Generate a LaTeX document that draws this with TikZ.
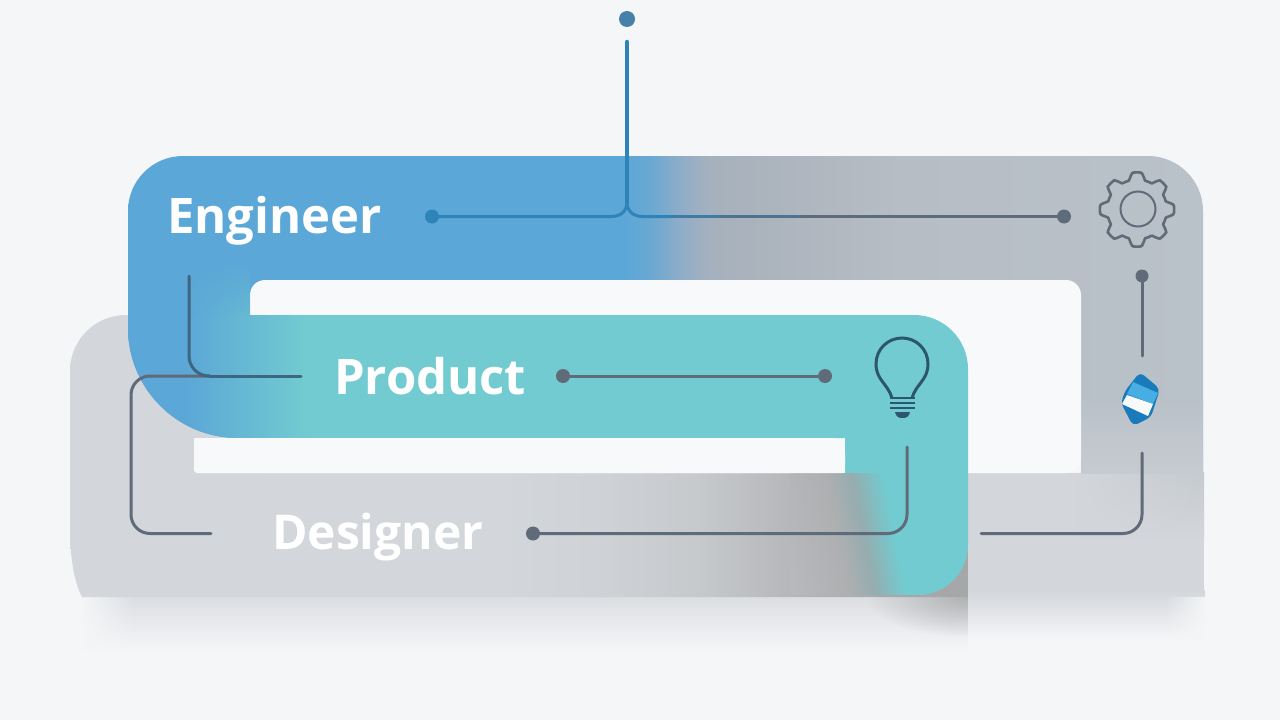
\documentclass[tikz,border=0pt]{standalone}
\usepackage{fontspec}
\setmainfont{Open Sans}
\usetikzlibrary{fadings}
\definecolor{pagebg}{HTML}{F5F6F8}
\definecolor{holewhite}{HTML}{F8F9FA}
\definecolor{bandblue}{HTML}{5BA7D7}
\definecolor{bandteal}{HTML}{72CBD0}
\definecolor{bandgrey}{HTML}{B9C1C9}
\definecolor{lowgrey}{HTML}{D3D6DA}
\definecolor{wiregrey}{HTML}{5F6B78}
\definecolor{wireblue}{HTML}{2E83B8}
\definecolor{wiredeep}{HTML}{3F6680}
\definecolor{bulbnavy}{HTML}{2C5570}
\definecolor{iconblue}{HTML}{1A7BBC}
\definecolor{iconsky}{HTML}{47AEE4}
\definecolor{fadea}{HTML}{6AA8D2}
\definecolor{fadeb}{HTML}{8FADC8}
\definecolor{fadec}{HTML}{A6B1BE}
\definecolor{faded}{HTML}{ABB3BC}
\definecolor{fadee}{HTML}{B6BDC5}
\definecolor{lowjoin}{HTML}{C6CBD0}
\tikzfading[name=wedgeglow,inner color=transparent!0,outer color=transparent!100]
\pgfdeclarehorizontalshading{bandtop}{100bp}{color(0bp)=(bandblue); color(48.1bp)=(bandblue); color(49.3bp)=(fadea); color(50.7bp)=(fadeb); color(52.1bp)=(fadec); color(54.4bp)=(faded); color(60.9bp)=(fadee); color(75bp)=(bandgrey); color(100bp)=(bandgrey)}
\pgfdeclarehorizontalshading{tealmain}{100bp}{color(0bp)=(bandblue); color(28.4bp)=(bandblue); color(35.6bp)=(bandteal); color(100bp)=(bandteal)}
\pgfdeclarehorizontalshading{tealpatch}{100bp}{color(0bp)=(bandblue); color(48bp)=(bandblue); color(75bp)=(bandteal!52!bandblue); color(100bp)=(bandteal!52!bandblue)}
\pgfdeclarehorizontalshading{lowband}{100bp}{color(0bp)=(lowgrey); color(49bp)=(lowgrey); color(54.5bp)=(lowgrey!95!gray); color(60bp)=(lowgrey!85!gray); color(65.6bp)=(lowgrey!62!gray); color(71.2bp)=(lowgrey!46!gray); color(100bp)=(lowgrey!46!gray)}
\pgfdeclarehorizontalshading{tealcorner}{100bp}{color(0bp)=(lowgrey!66!gray); color(22bp)=(lowgrey!66!gray); color(38bp)=(lowgrey!55!gray); color(45.3bp)=(bandteal!45!lowgrey!55!gray); color(54.4bp)=(bandteal); color(100bp)=(bandteal)}
\begin{document}
\begin{tikzpicture}[x=1pt,y=-1pt]
    \tikzset{wire/.style = {draw=wiregrey,line width=3pt,line cap=round}}
    \tikzset{bluewire/.style = {wire,draw=wireblue}}
    \tikzset{deepwire/.style = {wire,draw=wiredeep}}
    \tikzset{dot/.style = {shape=circle,fill=wiregrey,inner sep=0pt,minimum size=14pt}}
    \tikzset{rowlabel/.style = {anchor=base west,text=white,inner sep=0pt,font=\fontsize{49}{54}\selectfont\bfseries}}
    \useasboundingbox (0,0) rectangle (1280,720);
    \fill[pagebg] (0,0) rectangle (1280,720);
    \shade[top color=lowgrey!75!pagebg,bottom color=pagebg] (82,597) rectangle (968,652);
    \fill[pagebg,path fading=east] (80,597) rectangle (135,653);
    \begin{scope}
        \clip (860,597) rectangle (968,650);
        \fill[lowgrey!58!gray,path fading=wedgeglow] (868,557) rectangle (1068,637);
    \end{scope}
    \shade[top color=lowgrey,bottom color=pagebg] (968,590) rectangle (1205,640);
    \fill[pagebg,path fading=west] (1165,597) rectangle (1206,641);
    \fill[lowgrey] (968,473) rectangle (1204,592);
    \shade[shading=lowband] (82,597) .. controls (76,585) and (72,570) .. (70,540) [rounded corners=56pt] -- (70,315) [sharp corners] -- (260,315) -- (260,473) -- (968,473) -- (968,597) -- cycle;
    \shade[shading=bandtop] (128,328) [sharp corners] -- (128,211) [rounded corners=55pt] -- (128,156) -- (1203,156) [sharp corners] -- (1203,473) -- (1081,473) -- (1081,438) [rounded corners=110pt] -- (128,438) [sharp corners] -- cycle;
    \shade[top color=bandgrey,bottom color=lowjoin] (1081,400) rectangle (1203,473.5);
    \shade[top color=lowjoin,bottom color=lowgrey,path fading=west] (1075,473) rectangle (1204,540);
    \fill[holewhite,rounded corners=15pt] (250,280) rectangle (1081,473);
    \shade[shading=tealpatch,path fading=north] (128,262) rectangle (250,316);
    \shade[shading=tealmain] (128,328) -- (128,315) [rounded corners=54pt] -- (968,315) [sharp corners] -- (968,473) -- (845,473) -- (845,438) [rounded corners=110pt] -- (128,438) [sharp corners] -- cycle;
    \shade[shading=tealcorner,shading angle=11] (790,473) -- (968,473) [rounded corners=50pt] -- (968,595) [sharp corners] -- (790,595) -- cycle;
    \fill[holewhite] (194,438) [rounded corners=3pt] -- (194,473) -- (845,473) [rounded corners=13pt] -- (845,438) [sharp corners] -- cycle;

    \node[rowlabel] (engineer) at (167,233) {Engineer};
    \node[rowlabel] (product) at (334,394) {Product};
    \node[rowlabel,font=\fontsize{48}{54}\selectfont\bfseries] (designer) at (272,549) {Designer};

    \node[dot,fill=wireblue!70!gray,minimum size=16pt] (topdot) at (627,19) {};
    \coordinate (topwire) at (627,42);
    \coordinate (fork) at (627,202);
    \coordinate (forkl) at (611,216.5);
    \coordinate (forkr) at (643,216.5);
    \coordinate (wirefadea) at (670,216.5);
    \coordinate (wirefadeb) at (720,216.5);
    \coordinate (wirefadec) at (800,216.5);
    \node[dot,fill=wireblue] (engleft) at (432,216.5) {};
    \node[dot] (engright) at (1064,216.5) {};
    \draw[bluewire,line width=4.5pt] (topwire) -- (fork);
    \draw[bluewire] (engleft) -- (forkl) .. controls (620,216.5) and (627,212) .. (fork);
    \draw[wire] (wirefadec) -- (engright);
    \draw[wire,draw=wireblue!35!wiregrey] (wirefadeb) -- (wirefadec);
    \draw[wire,draw=wireblue!70!wiregrey] (wirefadea) -- (wirefadeb);
    \draw[bluewire] (fork) .. controls (627,212) and (634,216.5) .. (forkr) -- (wirefadea);

    \node[dot] (prodleft) at (563,376) {};
    \node[dot] (prodright) at (825,376) {};
    \draw[wire] (prodleft) -- (prodright);

    \coordinate (prodwire) at (301,376);
    \coordinate (desleft) at (211,533.5);
    \coordinate (engdrop) at (189,276);
    \coordinate (dropjoin) at (210,376);
    \coordinate (leftjoin) at (131,376);
    \coordinate (leftlow) at (131,533.5);
    \draw[wire,rounded corners=19pt] (dropjoin) -- (leftjoin) -- (leftlow) -- (desleft);
    \draw[deepwire] (prodwire) -- (dropjoin);
    \draw[deepwire,rounded corners=20pt] (engdrop) |- (dropjoin);

    \node[dot] (desdot) at (533,533.5) {};
    \coordinate (bulbwire) at (907,447);
    \coordinate (bulbturn) at (907,533.5);
    \draw[wire,rounded corners=19pt] (bulbwire) -- (bulbturn) -- (desdot);

    \node[dot,minimum size=13pt] (geardot) at (1142,276) {};
    \coordinate (gearwire) at (1142,356);
    \draw[wire] (geardot) -- (gearwire);
    \coordinate (clipwire) at (1142,453);
    \coordinate (clipturn) at (1142,533.5);
    \coordinate (rightend) at (981,533.5);
    \draw[wire,rounded corners=19pt] (clipwire) -- (clipturn) -- (rightend);

    \draw[wiregrey,line width=2.6pt] plot[smooth cycle,samples=180,domain=0:358] ({1137+(33.5+3.6*min(1,max(-1,1.8*cos(8*\x))))*cos(\x)},{209.5+(33.5+3.6*min(1,max(-1,1.8*cos(8*\x))))*sin(\x)});
    \draw[wiregrey,line width=2pt] (1138,209) circle[radius=17.5];

    \draw[bulbnavy,line width=3pt] (892,398) .. controls (888,384) and (876,380) .. (876,364) .. controls (876,349) and (888,338) .. (902,338) .. controls (916,338) and (928,349) .. (928,364) .. controls (928,380) and (916,384) .. (912,398);
    \foreach \y in {398,403,408}
        \draw[bulbnavy,line width=2.8pt] (890,\y) -- (915,\y);
    \fill[bulbnavy] (895,412) -- (910,412) .. controls (909,417) and (906,418) .. (902.5,418) .. controls (899,418) and (896,417) .. (895,412) -- cycle;

    \begin{scope}
        \clip[rounded corners=5pt] (1140,372) -- (1160,389) -- (1151,417) -- (1133,426) -- (1121,403) -- (1125,391) -- cycle;
        \fill[iconblue] (1115,365) rectangle (1165,430);
        \fill[iconsky] (1133,382) -- (1158,393) -- (1153,404) -- (1127,394) -- cycle;
        \fill[holewhite] (1127,395) -- (1153,404) -- (1148,416) -- (1122,404) -- cycle;
    \end{scope}
\end{tikzpicture}
\end{document}
